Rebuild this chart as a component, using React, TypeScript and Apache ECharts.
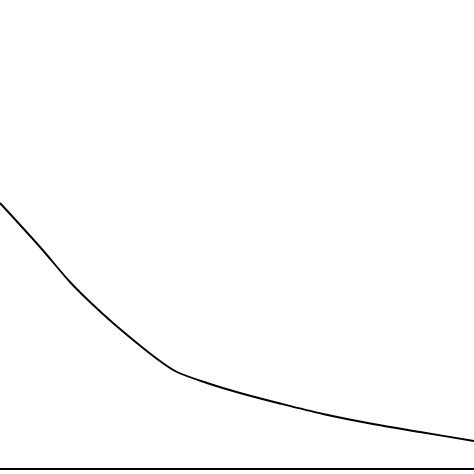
import React, { useEffect, useRef } from "react";
import * as echarts from "echarts";

const xValues = [0, 40, 70, 90, 113, 143, 160, 177, 207, 240, 278, 323, 373, 420, 474];
const yValues = [266, 222, 187, 167, 146, 121, 108, 97, 86, 76, 66, 55, 45, 37, 28];

const App = () => {
  const chartRef = useRef<HTMLDivElement>(null);

  useEffect(() => {
    if (!chartRef.current) return;
    const chart = echarts.init(chartRef.current, null, { renderer: "svg" });

    chart.setOption({
      animation: false,
      backgroundColor: "#ffffff",
      grid: { left: 0, right: 0, top: 0, bottom: 5 },
      xAxis: {
        type: "value",
        min: 0,
        max: 474,
        axisLine: { show: true, onZero: false, lineStyle: { color: "#000", width: 2 } },
        axisTick: { show: false },
        axisLabel: { show: false },
        splitLine: { show: false },
      },
      yAxis: {
        type: "value",
        min: 0,
        max: 469,
        axisLine: { show: false },
        axisTick: { show: false },
        axisLabel: { show: false },
        splitLine: { show: false },
      },
      series: [
        {
          type: "line",
          data: xValues.map((x, i) => [x, yValues[i]]),
          showSymbol: false,
          smooth: 0.3,
          lineStyle: { color: "#000", width: 1.9 },
        },
      ],
    });

    return () => {
      chart.dispose();
    };
  }, []);

  return (
    <div
      ref={chartRef}
      style={{ position: "fixed", left: 0, top: 0, width: "474px", height: "474px" }}
    />
  );
};

export default App;
